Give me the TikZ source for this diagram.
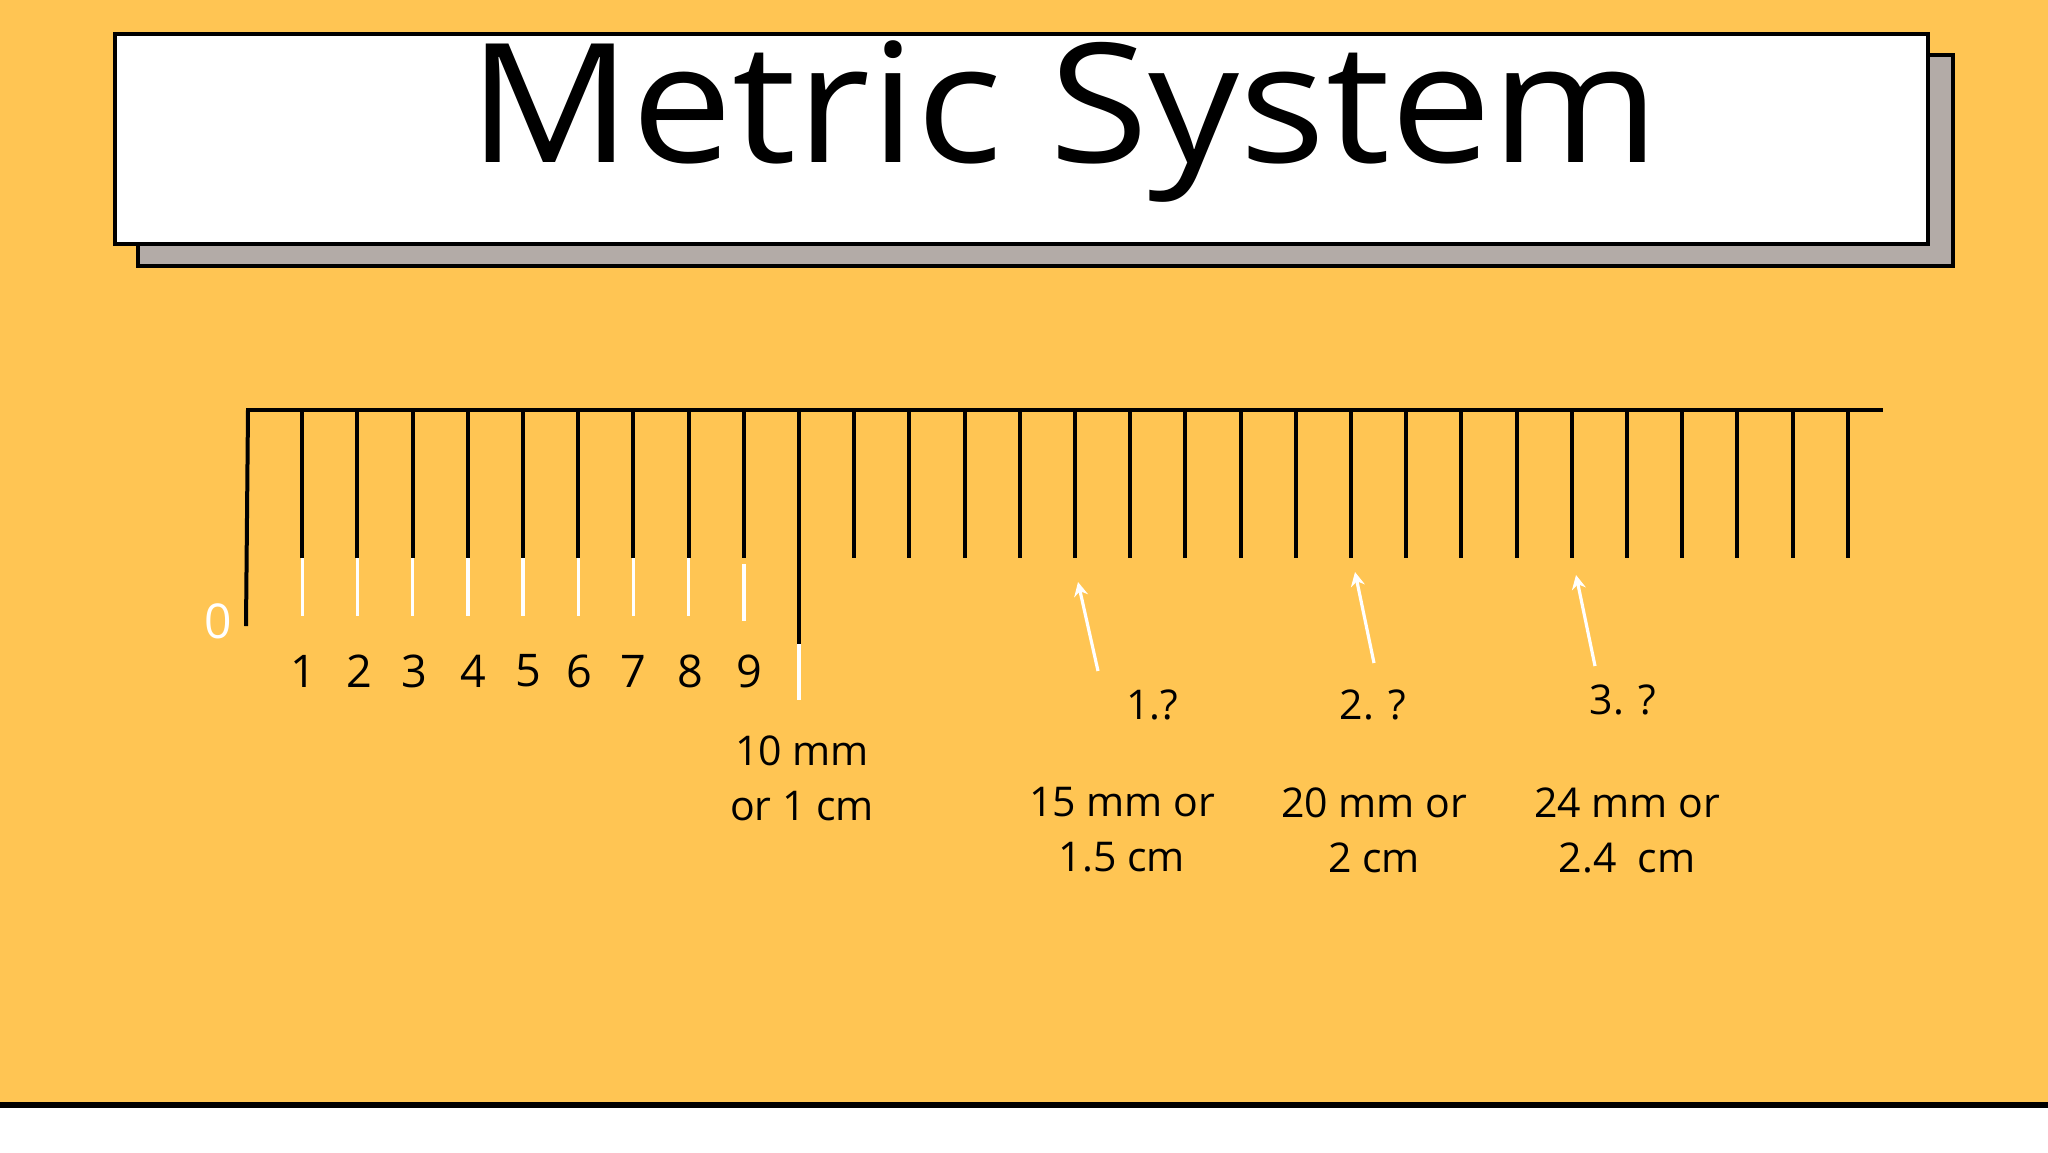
\documentclass[tikz,border=0pt]{standalone}
\usepackage{fontspec}
\setmainfont{Open Sans}
\usetikzlibrary{arrows.meta}
\definecolor{bgyellow}{HTML}{FFC553}
\definecolor{shadowgray}{HTML}{B3ABA7}
\begin{document}
\begin{tikzpicture}[x=0.5pt,y=-0.5pt,
  rulerline/.style={line width=2pt,black},
  whiteline/.style={line width=1.7pt,white},
  numlabel/.style={font=\fontsize{22.5}{28}\selectfont,text=black,inner sep=0pt},
  anslabel/.style={font=\fontsize{20.5}{27.5}\selectfont,text=black,align=center,inner sep=0pt},
  qlabel/.style={font=\fontsize{20.5}{27.5}\selectfont,text=black,inner sep=0pt},
  pointer/.style={line width=1.6pt,white,-{Stealth[length=7pt,width=7pt]}}]
\useasboundingbox (0,0) rectangle (2048,1152);
\fill[white] (0,0) rectangle (2048,1152);
\fill[bgyellow] (0,0) rectangle (2048,1103);
\fill[black] (0,1102) rectangle (2048,1108);
% title
\draw[line width=2pt,fill=shadowgray] (138,55) rectangle (1953,266);
\draw[line width=2pt,fill=white] (115,34) rectangle (1928,244);
\node[font=\fontsize{83}{100}\selectfont,anchor=base,inner sep=0pt,xscale=1.09] (title) at (1064,162) {Metric System};
% ruler
\draw[rulerline] (246,410) -- (1883,410);
\draw[rulerline] (248,410) -- (246,626);
\foreach \i in {1,...,29}{
  \draw[rulerline] ({247+55.2*\i},409) -- ({247+55.2*\i},558);
}
\foreach \i in {1,...,8}{
  \draw[whiteline] ({247+55.2*\i},558) -- ({247+55.2*\i},616);
}
\draw[whiteline] ({247+55.2*9},564) -- ({247+55.2*9},621);
\draw[rulerline] ({247+55.2*10},558) -- ({247+55.2*10},644);
\draw[whiteline] ({247+55.2*10},644) -- ({247+55.2*10},700);
% labels
\node[font=\fontsize{24}{28}\selectfont,text=white,inner sep=0pt] (zero) at (218,621) {0};
\node[numlabel] (n1) at (303,671) {1};
\node[numlabel] (n2) at (359,671) {2};
\node[numlabel] (n3) at (414,671) {3};
\node[numlabel] (n4) at (473,671) {4};
\node[numlabel] (n5) at (528,671) {5};
\node[numlabel] (n6) at (579,671) {6};
\node[numlabel] (n7) at (633,671) {7};
\node[numlabel] (n8) at (690,671) {8};
\node[numlabel] (n9) at (749,671) {9};
\node[anslabel] (ten) at (802,778) {10 mm\\or 1 cm};
\node[qlabel] (q1) at (1152,705) {1.?};
\node[qlabel] (q2) at (1373,705) {2. ?};
\node[qlabel] (q3) at (1623,700) {3. ?};
\node[anslabel] (a1) at (1122,830) {15 mm or\\1.5 cm};
\node[anslabel] (a2) at (1374,830) {20 mm or\\2 cm};
\node[anslabel] (a3) at (1627,830) {24 mm or\\2.4\ \ cm};
% arrows
\coordinate (s1) at (1098,671); \coordinate (t1) at (1078,582);
\coordinate (s2) at (1374,663); \coordinate (t2) at (1355,572);
\coordinate (s3) at (1595,666); \coordinate (t3) at (1576,575);
\draw[pointer] (s1) -- (t1);
\draw[pointer] (s2) -- (t2);
\draw[pointer] (s3) -- (t3);
\end{tikzpicture}
\end{document}
